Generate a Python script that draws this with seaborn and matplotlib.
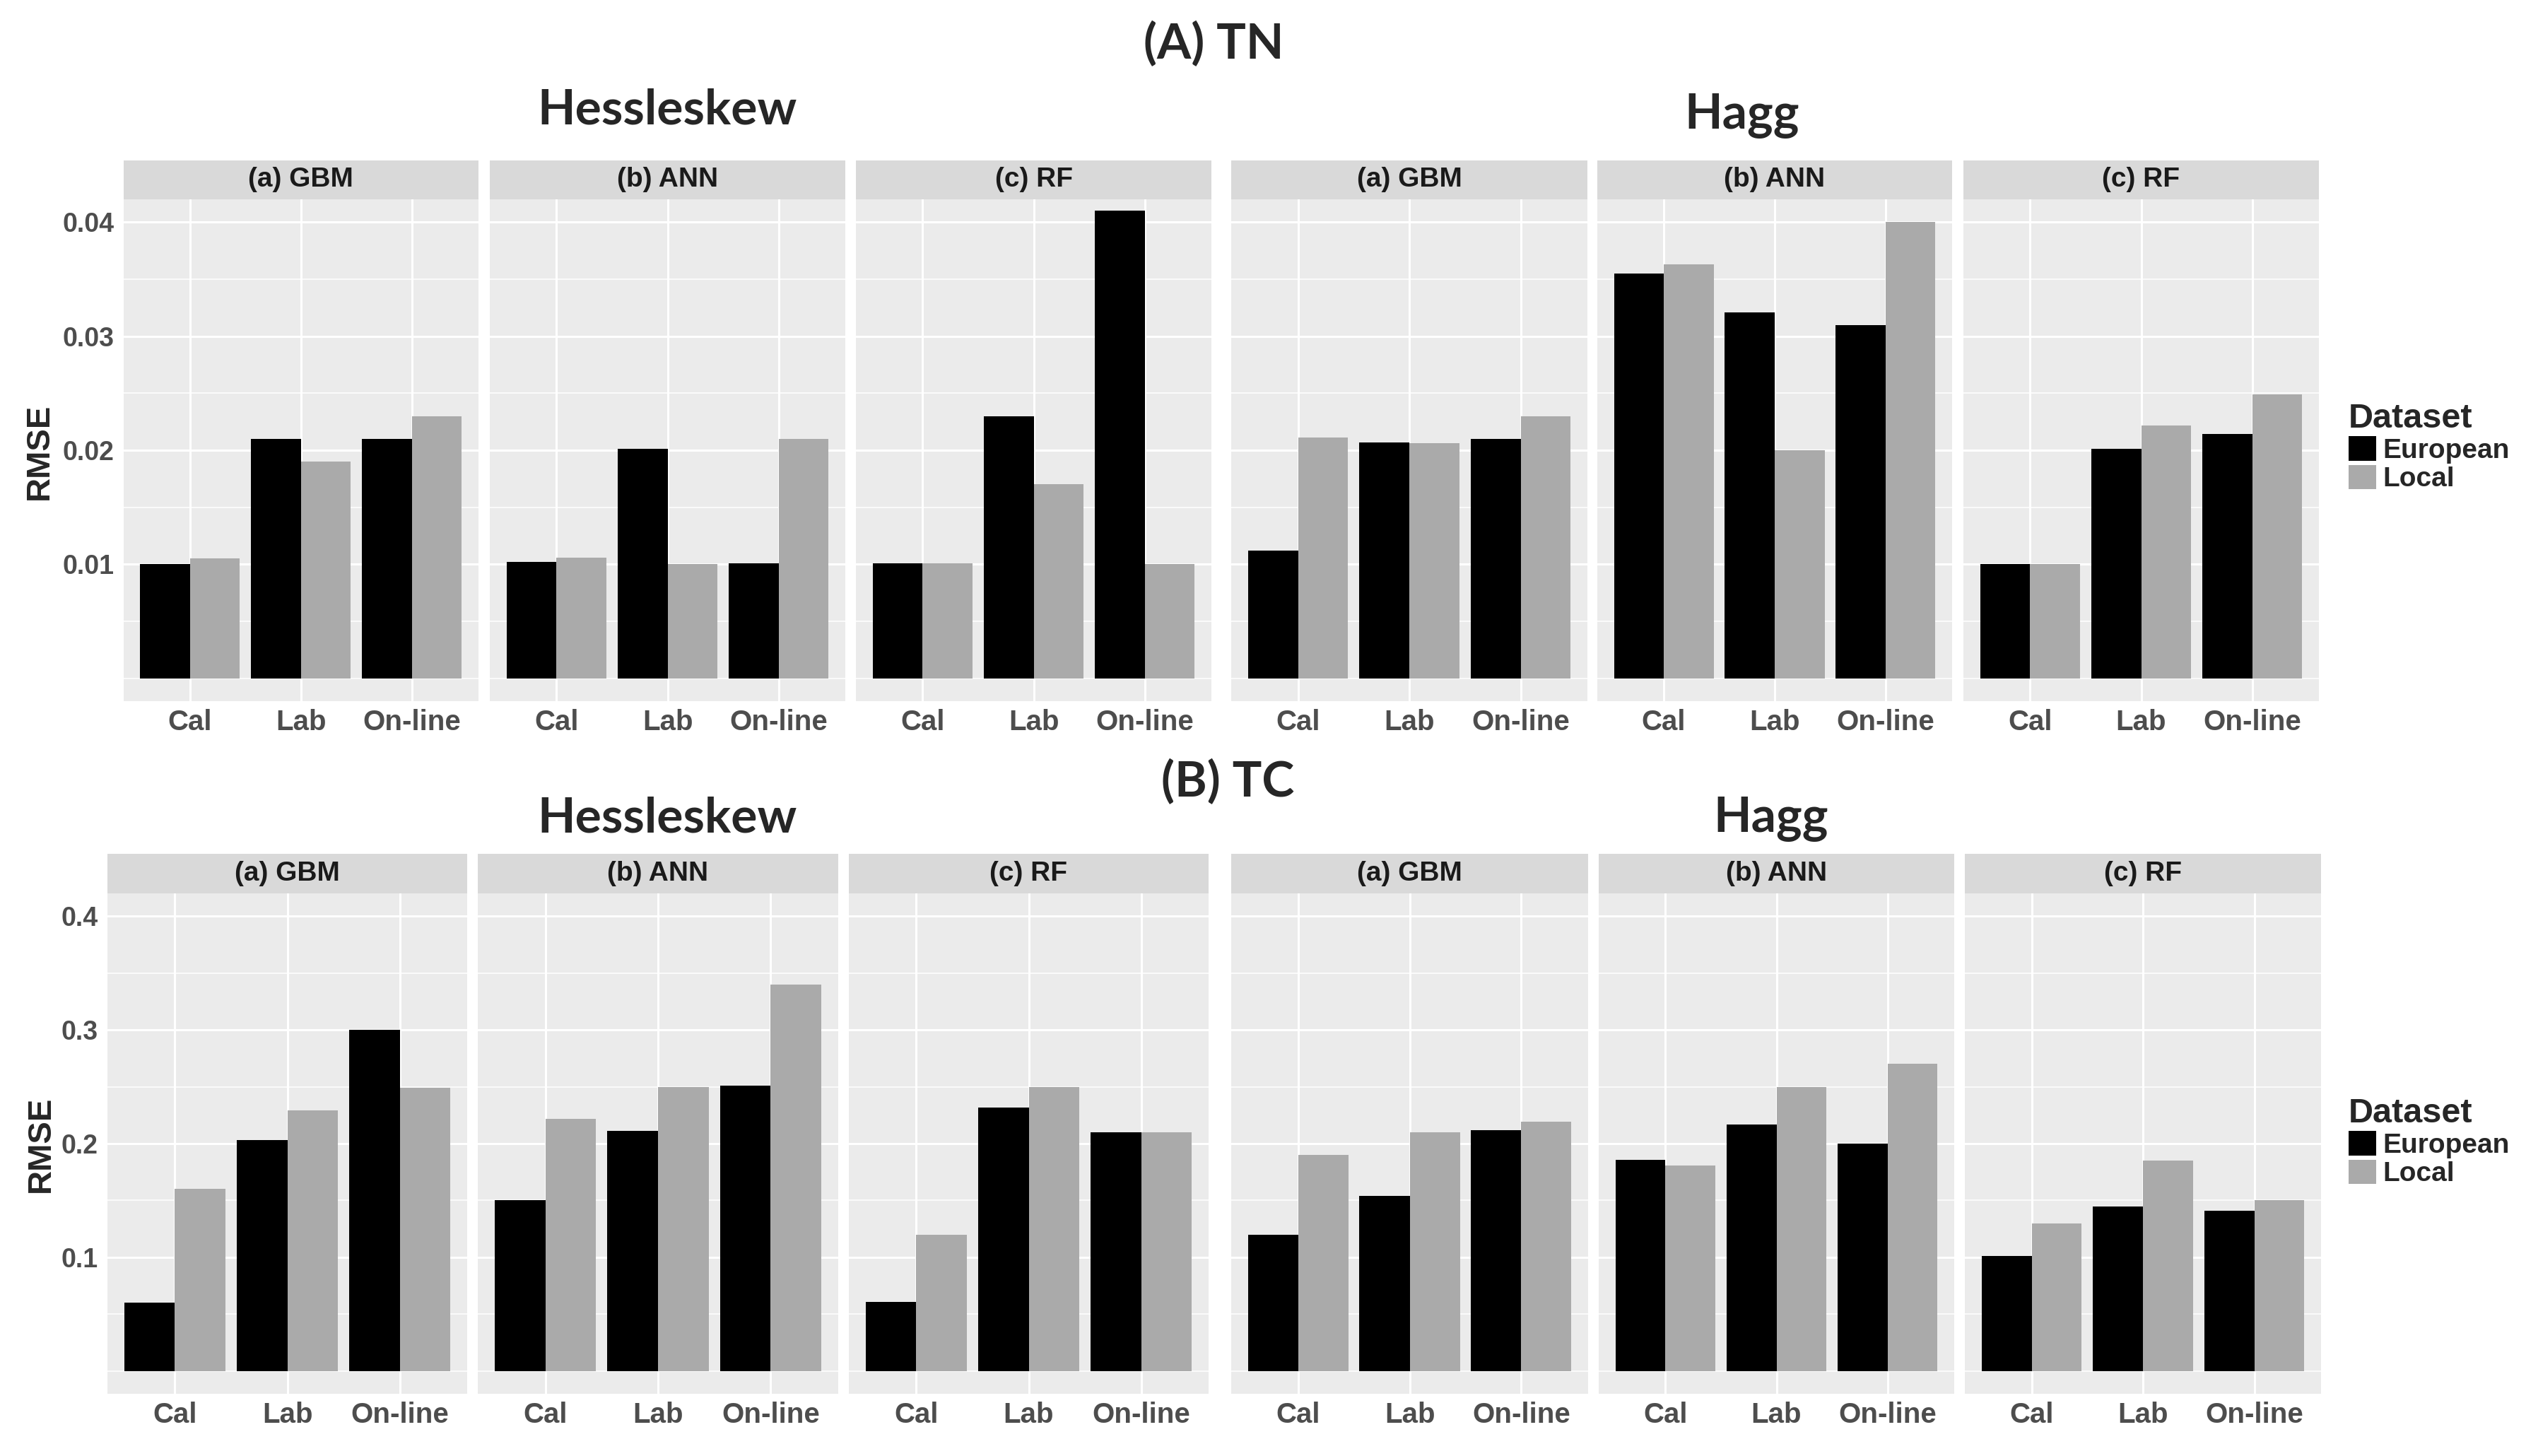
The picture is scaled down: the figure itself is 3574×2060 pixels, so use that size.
import matplotlib
matplotlib.use("Agg")
import matplotlib.pyplot as plt
import numpy as np
import pandas as pd
import seaborn as sns

# ---------------- data ----------------
stages = ["Cal", "Lab", "On-line"]
models = ["(a) GBM", "(b) ANN", "(c) RF"]
datasets = ["European", "Local"]
sites = ["Hessleskew", "Hagg"]

# rows: GBM, ANN, RF ; columns: Cal, Lab, On-line
tn_hess_eur = [[0.0100, 0.0210, 0.0210], [0.0102, 0.0201, 0.0101], [0.0101, 0.0230, 0.0410]]
tn_hess_loc = [[0.0105, 0.0190, 0.0230], [0.0106, 0.0100, 0.0210], [0.0101, 0.0170, 0.0100]]
tn_hagg_eur = [[0.0112, 0.0207, 0.0210], [0.0355, 0.0321, 0.0310], [0.0100, 0.0201, 0.0214]]
tn_hagg_loc = [[0.0211, 0.0206, 0.0230], [0.0363, 0.0200, 0.0400], [0.0100, 0.0222, 0.0249]]

tc_hess_eur = [[0.060, 0.203, 0.300], [0.150, 0.211, 0.251], [0.061, 0.232, 0.210]]
tc_hess_loc = [[0.160, 0.229, 0.249], [0.222, 0.250, 0.340], [0.120, 0.250, 0.210]]
tc_hagg_eur = [[0.120, 0.154, 0.212], [0.186, 0.217, 0.200], [0.101, 0.145, 0.141]]
tc_hagg_loc = [[0.190, 0.210, 0.219], [0.181, 0.250, 0.270], [0.130, 0.185, 0.150]]

tn_yticks = [0.01, 0.02, 0.03, 0.04]
tn_ylabels = ["0.01", "0.02", "0.03", "0.04"]
tc_yticks = [0.1, 0.2, 0.3, 0.4]
tc_ylabels = ["0.1", "0.2", "0.3", "0.4"]

# ---------------- style ----------------
sns.set_style("white")
plt.rcParams["font.family"] = ["Liberation Sans", "DejaVu Sans"]
plt.rcParams["font.weight"] = "bold"

W, H = 3574, 2060
DPI = 200
fig = plt.figure(figsize=(W / DPI, H / DPI), dpi=DPI)

BLACK = "#000000"
GREY = "#AAAAAA"
PANEL_BG = "#EBEBEB"
STRIP_BG = "#D9D9D9"
TICKCOL = "#4D4D4D"


def fx(px):
    return px / W


def fy(py):
    return 1 - py / H


def draw_row(xs, top, bottom, strip_top, data_sets, ylim, yticks, ylabels, minor):
    handles = labels = None
    for i, (x0, x1) in enumerate(xs):
        site_idx = i // 3
        m = i % 3
        eur, loc = data_sets[site_idx]
        ax = fig.add_axes([fx(x0), fy(bottom), fx(x1) - fx(x0), (bottom - top) / H])
        df = pd.DataFrame({
            "Stage": stages * 2,
            "RMSE": list(eur[m]) + list(loc[m]),
            "Dataset": [datasets[0]] * 3 + [datasets[1]] * 3,
        })
        sns.barplot(data=df, x="Stage", y="RMSE", hue="Dataset", order=stages,
                    hue_order=datasets, palette=[BLACK, GREY], width=0.9,
                    saturation=1, errorbar=None, linewidth=0, ax=ax, legend=True)
        if handles is None:
            handles, labels = ax.get_legend_handles_labels()
        if ax.get_legend() is not None:
            ax.get_legend().remove()
        ax.set_facecolor(PANEL_BG)
        ax.set_xlim(-0.6, 2.6)
        ax.set_ylim(*ylim)
        ax.set_xlabel("")
        ax.set_ylabel("")
        for s in ax.spines.values():
            s.set_visible(False)
        ax.set_axisbelow(True)
        ax.set_yticks(yticks)
        ax.set_yticks(minor, minor=True)
        ax.grid(True, which="major", axis="both", color="white", linewidth=1.1)
        ax.grid(True, which="minor", axis="y", color="white", linewidth=0.55)
        ax.tick_params(axis="y", which="minor", length=0)
        ax.tick_params(axis="x", length=2.3, width=0.8, color="#333333", pad=1.5,
                       labelsize=14.5, labelcolor=TICKCOL)
        if m == 0:
            ax.tick_params(axis="y", which="major", length=2.5, width=0.8,
                           color="#333333", pad=2.2, labelsize=13.5, labelcolor=TICKCOL)
            if site_idx == 0:
                ax.set_yticklabels(ylabels)
            else:
                ax.tick_params(axis="y", labelleft=False)
        else:
            ax.tick_params(axis="y", which="major", length=0, labelleft=False)
        for t in ax.get_xticklabels() + ax.get_yticklabels():
            t.set_fontweight("bold")
        # strip
        sax = fig.add_axes([fx(x0), fy(top), fx(x1) - fx(x0), (top - strip_top) / H])
        sax.set_facecolor(STRIP_BG)
        sax.set_xticks([])
        sax.set_yticks([])
        for s in sax.spines.values():
            s.set_visible(False)
        sax.text(0.5, 0.5, models[m], ha="center", va="center", fontsize=14,
                 fontweight="bold", color="#1A1A1A", transform=sax.transAxes)
    return handles, labels


top_xs = [(174.5, 677), (693, 1196), (1211, 1714), (1742, 2246), (2260, 2762), (2778, 3281)]
bot_xs = [(152, 661), (676, 1186), (1201, 1710), (1742, 2247), (2262, 2765), (2780, 3284)]

h1, l1 = draw_row(top_xs, 282, 992, 227,
                  [(tn_hess_eur, tn_hess_loc), (tn_hagg_eur, tn_hagg_loc)],
                  (-0.002, 0.042), tn_yticks, tn_ylabels,
                  [0.0, 0.005, 0.015, 0.025, 0.035])
h2, l2 = draw_row(bot_xs, 1264, 1972, 1208,
                  [(tc_hess_eur, tc_hess_loc), (tc_hagg_eur, tc_hagg_loc)],
                  (-0.02, 0.42), tc_yticks, tc_ylabels,
                  [0.0, 0.05, 0.15, 0.25, 0.35])

# legends
for hh, ll, ytop in [(h1, l1, 570), (h2, l2, 1553)]:
    leg = fig.legend(hh, ll, title="Dataset", loc="upper left",
                     bbox_to_anchor=(fx(3323), fy(ytop)), frameon=False,
                     borderpad=0, borderaxespad=0, handlelength=1.0, handleheight=1.0,
                     labelspacing=0.05, handletextpad=0.25, fontsize=14,
                     title_fontproperties={"size": 17.5, "weight": "bold"},
                     alignment="left")
    for t in leg.get_texts():
        t.set_fontweight("bold")

# titles
TF = ["Lato", "DejaVu Sans"]
fig.text(fx(1717), fy(83), "(A) TN", ha="center", va="baseline", fontsize=25,
         fontweight="bold", family=TF)
fig.text(fx(1737), fy(1127), "(B) TC", ha="center", va="baseline", fontsize=25,
         fontweight="bold", family=TF)
fig.text(fx(944), fy(175), sites[0], ha="center", va="baseline", fontsize=25,
         fontweight="bold", family=TF)
fig.text(fx(2465), fy(182), sites[1], ha="center", va="baseline", fontsize=25,
         fontweight="bold", family=TF)
fig.text(fx(944), fy(1178), sites[0], ha="center", va="baseline", fontsize=25,
         fontweight="bold", family=TF)
fig.text(fx(2506), fy(1177), sites[1], ha="center", va="baseline", fontsize=25,
         fontweight="bold", family=TF)

fig.text(fx(56), fy(639), "RMSE", rotation=90, ha="center", va="center",
         fontsize=17, fontweight="bold")
fig.text(fx(58), fy(1619), "RMSE", rotation=90, ha="center", va="center",
         fontsize=17, fontweight="bold")

fig.savefig("out.png", dpi=DPI, facecolor="white")
